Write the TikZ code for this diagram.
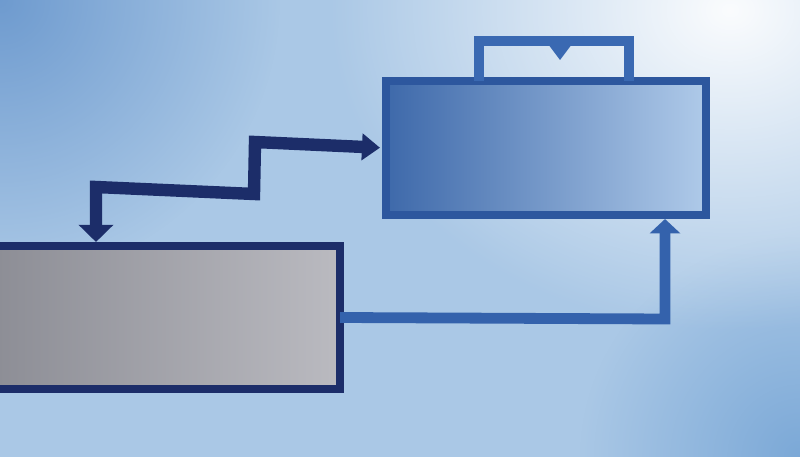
\documentclass[tikz,border=0pt]{standalone}
\usetikzlibrary{arrows.meta,fadings}
\definecolor{bgM}{RGB}{170,200,230}
\definecolor{bgTL}{RGB}{100,147,203}
\definecolor{bgBR}{RGB}{108,158,210}
\definecolor{navy}{RGB}{28,45,105}
\definecolor{rbline}{RGB}{45,87,158}
\definecolor{loopc}{RGB}{58,105,178}
\definecolor{lowc}{RGB}{52,98,172}
\definecolor{rbL}{RGB}{62,105,170}
\definecolor{rbR}{RGB}{175,202,233}
\definecolor{gbL}{RGB}{140,141,149}
\definecolor{gbR}{RGB}{186,186,192}
\tikzfading[name=myglow, inner color=transparent!0, outer color=transparent!100]
\begin{document}
\begin{tikzpicture}[x=0.025cm,y=-0.025cm,
  boxnode/.style={rectangle, inner sep=0pt, outer sep=0pt},
  stairline/.style={draw=navy, line width=0.31cm, line join=miter},
  loopline/.style={draw=loopc, line width=0.23cm, line join=miter},
  lowline/.style={draw=lowc, line width=0.27cm, line join=miter}]
\clip (0,0) rectangle (800,457);
% background
\fill[bgM] (0,0) rectangle (800,457);
\fill[bgTL, path fading=myglow, opacity=0.85] (0,0) circle (7cm);
\fill[bgBR, path fading=myglow, opacity=0.75] (800,457) circle (5.5cm);
\fill[white, path fading=myglow, opacity=0.95] (730,10) ellipse (10cm and 8cm);
% boxes
\node[boxnode, draw=rbline, line width=0.19cm, left color=rbL, right color=rbR,
      minimum width=8cm, minimum height=3.35cm] (rb) at (546,148) {};
\node[boxnode, draw=navy, line width=0.2cm, left color=gbL, right color=gbR,
      minimum width=8.75cm, minimum height=3.575cm] (lb) at (165,317.5) {};
% stair connector (double headed)
\coordinate (s1) at (96,187);
\coordinate (s2) at (254,194);
\coordinate (s3) at (255,142);
\draw[stairline, {Triangle[length=0.43cm,width=0.85cm]}-{Triangle[length=0.45cm,width=0.65cm]},
      shorten <=0.1cm, shorten >=0.15cm]
  (s1 |- lb.north) -- (s1) -- (s2) -- (s3) -- (rb.west);
% top loop
\coordinate (t1) at (479,41);
\coordinate (t2) at (629,41);
\draw[loopline] (rb.north -| t1) -- (t1) -- (t2) -- (rb.north -| t2);
\fill[loopc] (548,44) -- (572,44) -- (560,60) -- cycle;
% lower connector
\coordinate (c1) at (665,319);
\draw[lowline, -{Triangle[length=0.36cm,width=0.75cm]}, shorten >=0.1cm]
  (lb.east) -- (c1) -- (c1 |- rb.south);
\end{tikzpicture}
\end{document}
